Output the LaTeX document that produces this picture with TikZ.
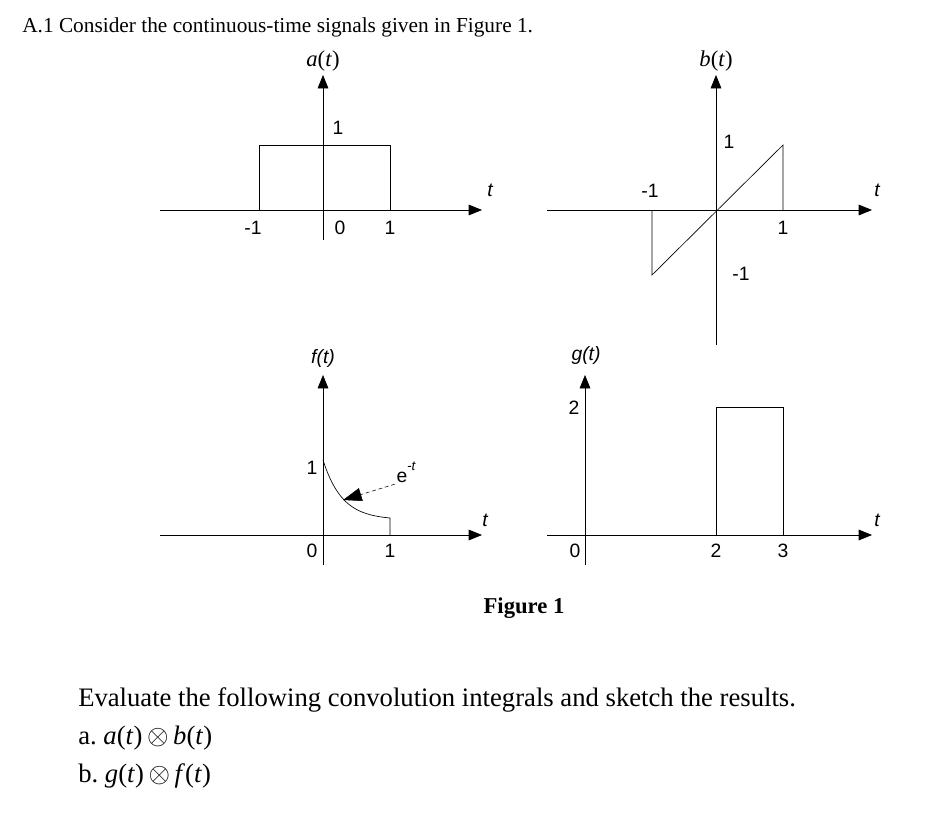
\documentclass[tikz,border=0pt]{standalone}
\usepackage{fontspec}
\setmainfont{Liberation Serif}
\newfontfamily\lab{Liberation Sans}
\usetikzlibrary{calc,arrows.meta}
\tikzset{
  axis/.style={-{Triangle[length=10pt,width=8pt]},line width=0.5pt},
  sig/.style={line width=0.5pt},
  lbl/.style={font=\lab\fontsize{14.5}{16}\selectfont,inner sep=1pt},
  ilbl/.style={font=\lab\itshape\fontsize{14.5}{16}\selectfont,inner sep=1pt},
  txt/.style={font=\fontsize{20}{23}\selectfont,anchor=west,inner sep=0pt}
}
\begin{document}
\begin{tikzpicture}[x=0.75pt,y=-0.75pt]
  \useasboundingbox (0,0) rectangle (942,828);
  \node[txt,font=\fontsize{16}{19}\selectfont] (title) at (22,27) {A.1 Consider the continuous-time signals given in Figure 1.};

  %% a(t)
  \coordinate (aL) at (160,210); \coordinate (aR) at (482,210);
  \coordinate (aB) at (323,240); \coordinate (aT) at (323,75);
  \draw[axis] (aL) -- (aR);
  \draw[axis] (aB) -- (aT);
  \draw[sig] (259,210) -- (259,145) -- (390,145) -- (390,210);
  \node[txt,font=\fontsize{17}{19}\selectfont,anchor=south] (alab) at (323,72) {\textit{a}(\textit{t})};
  \node[lbl] (a1) at (338,128) {1};
  \node[lbl] (am) at (253,228) {-1};
  \node[lbl] (a0) at (340,228) {0};
  \node[lbl] (ap) at (390,228) {1};
  \node[ilbl] (at) at (490,190) {t};

  %% b(t)
  \coordinate (bL) at (547,210); \coordinate (bR) at (872,210);
  \coordinate (bB) at (716,345); \coordinate (bT) at (716,75);
  \draw[axis] (bL) -- (bR);
  \draw[axis] (bB) -- (bT);
  \draw[sig] (652,210) -- (652,275) -- (783,145) -- (783,210);
  \node[txt,font=\fontsize{17}{19}\selectfont,anchor=south] (blab) at (716,72) {\textit{b}(\textit{t})};
  \node[lbl] (b1) at (729,142) {1};
  \node[lbl] (bm) at (650,191) {-1};
  \node[lbl] (bp) at (783,228) {1};
  \node[lbl] (bn) at (741,274) {-1};
  \node[ilbl] (bt) at (877,190) {t};

  %% f(t)
  \coordinate (fL) at (160,535); \coordinate (fR) at (482,535);
  \coordinate (fB) at (323,565); \coordinate (fT) at (323,375);
  \draw[axis] (fL) -- (fR);
  \draw[axis] (fB) -- (fT);
  \draw[sig] plot[domain=0:1,samples=40] ({323+67*\x},{518-58*(exp(-3.5*\x)-exp(-3.5))/(1-exp(-3.5))}) -- (390,535);
  \node[ilbl] (flab) at (323,358) {f(t)};
  \node[lbl] (f1) at (312,468) {1};
  \node[lbl] (f0) at (312,551) {0};
  \node[lbl] (fp) at (390,551) {1};
  \node[lbl] (fe) at (406,472) {e\raisebox{1.2ex}{\fontsize{10}{11}\selectfont-\itshape t}};
  \coordinate (fc) at (343,500);
  \draw[densely dashed,-{Triangle[length=14pt,width=10pt]}] (fe.south west) -- (fc);
  \node[ilbl] (ft) at (485,520) {t};

  %% g(t)
  \coordinate (gL) at (547,535); \coordinate (gR) at (872,535);
  \coordinate (gB) at (585,565); \coordinate (gT) at (585,375);
  \draw[axis] (gL) -- (gR);
  \draw[axis] (gB) -- (gT);
  \draw[sig] (716,535) -- (716,407) -- (783,407) -- (783,535);
  \node[ilbl] (glab) at (586,355) {g(t)};
  \node[lbl] (g2) at (574,408) {2};
  \node[lbl] (g0) at (575,551) {0};
  \node[lbl] (gp) at (716,551) {2};
  \node[lbl] (gq) at (783,551) {3};
  \node[ilbl] (gt) at (877,520) {t};

  \node[font=\bfseries\fontsize{17}{19}\selectfont] (fig) at (524,608) {Figure 1};
  \node[txt] (eval) at (78,700) {Evaluate the following convolution integrals and sketch the results.};
  \node[txt] (qa) at (78,738) {a.\ \textit{a}(\textit{t})$\,\otimes\,$\textit{b}(\textit{t})};
  \node[txt] (qb) at (78,776) {b.\ \textit{g}(\textit{t})$\,\otimes\,$\textit{f}(\textit{t})};
\end{tikzpicture}
\end{document}
